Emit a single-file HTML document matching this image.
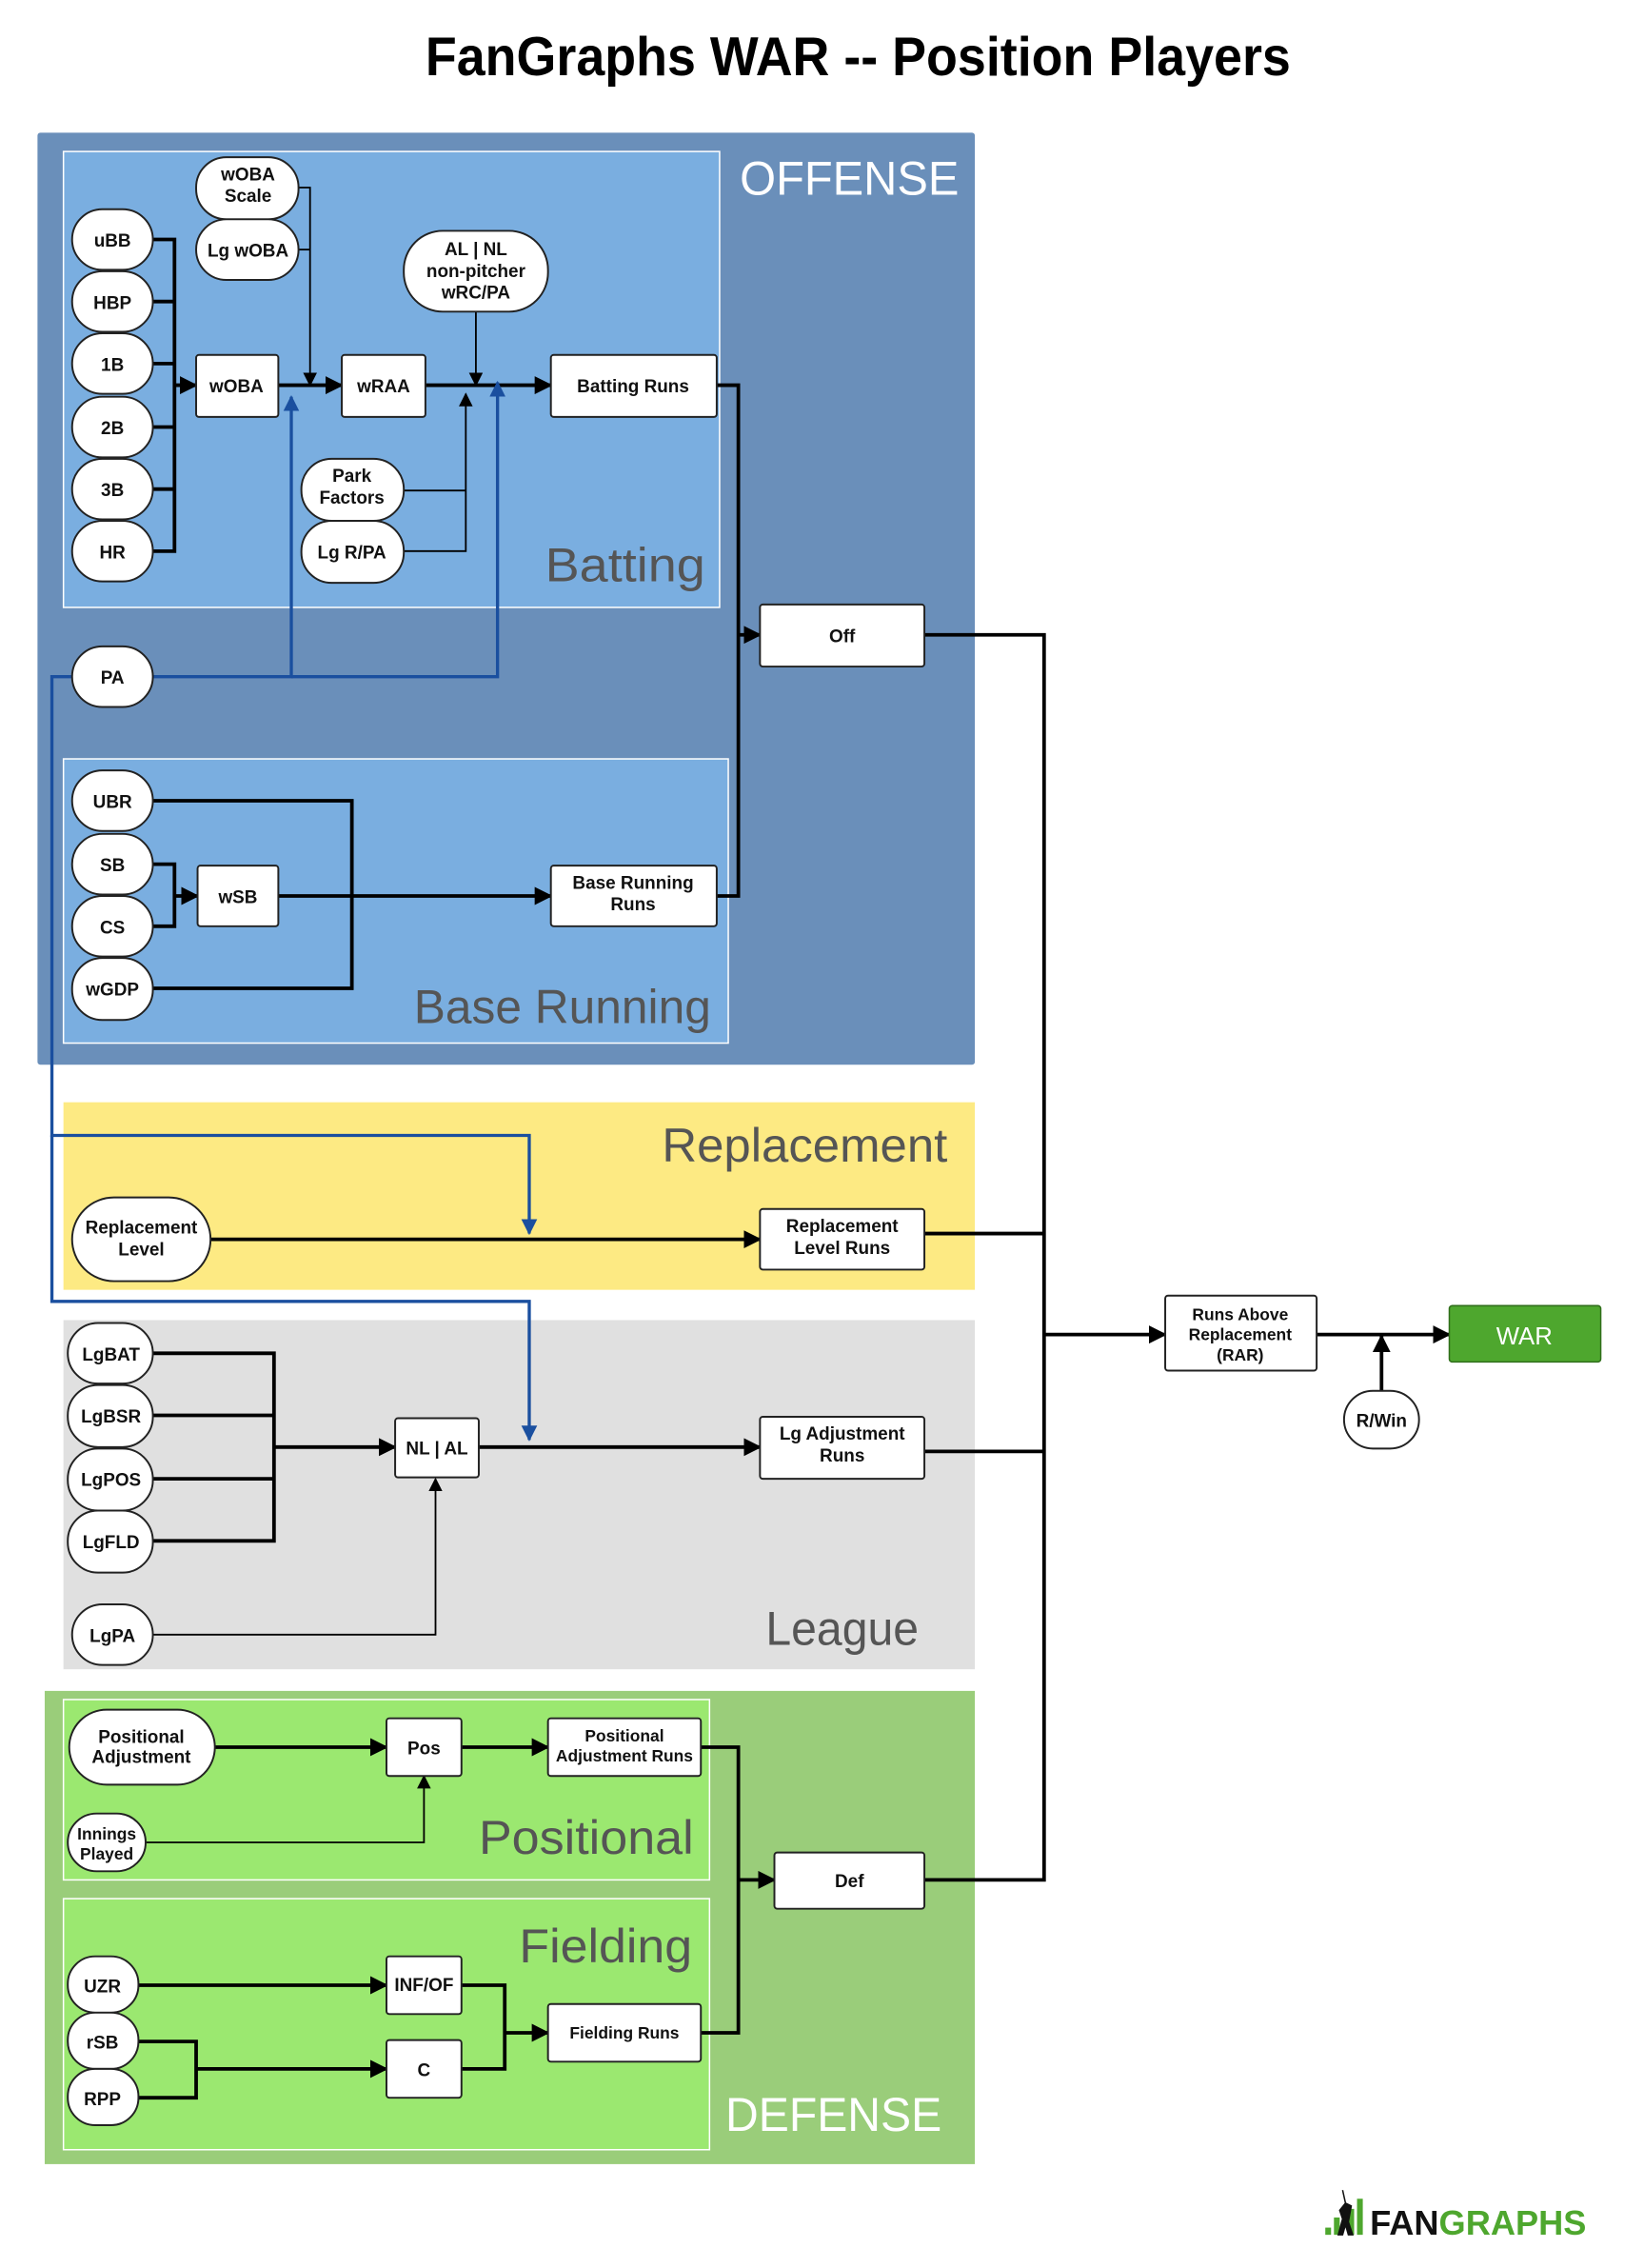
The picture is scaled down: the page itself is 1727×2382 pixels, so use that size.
<!DOCTYPE html>
<html><head><meta charset="utf-8">
<style>
html,body{margin:0;padding:0;background:#fff;}
svg{display:block;}
text{font-family:"Liberation Sans",sans-serif;}
.n{fill:#fff;stroke:#222;stroke-width:1.3;}
.t{font-size:12.5px;font-weight:bold;fill:#111;text-anchor:middle;}
.l{fill:none;stroke:#000;stroke-width:2.5;}
.th{fill:none;stroke:#000;stroke-width:1.2;}
.b{fill:none;stroke:#1a4f9f;stroke-width:2.2;}
.big{font-size:33px;fill:#555;}
.wh{font-size:33px;fill:#fff;}
</style></head><body>
<svg width="1727" height="2382" viewBox="0 0 1140 1572" preserveAspectRatio="none" xmlns="http://www.w3.org/2000/svg">
<defs>
<marker id="a" viewBox="0 0 10 10" refX="9" refY="5" markerWidth="5" markerHeight="5" orient="auto"><path d="M0,0L10,5L0,10z" fill="#000"/></marker>
<marker id="ab" viewBox="0 0 10 10" refX="9" refY="5" markerWidth="5" markerHeight="5" orient="auto"><path d="M0,0L10,5L0,10z" fill="#1a4f9f"/></marker>
<marker id="at" viewBox="0 0 10 10" refX="9" refY="5" markerWidth="8" markerHeight="8" orient="auto"><path d="M0,0L10,5L0,10z" fill="#000"/></marker>
</defs>
<text x="295" y="52" textLength="600" lengthAdjust="spacingAndGlyphs" style="font-size:38px;font-weight:bold;fill:#000">FanGraphs WAR -- Position Players</text>

<!-- regions -->
<rect x="26" y="92" width="650" height="646" rx="2" fill="#6a8fba"/>
<rect x="44" y="105" width="455" height="316" fill="#7aaee0" stroke="#fff" stroke-width="1"/>
<rect x="44" y="526" width="461" height="197" fill="#7aaee0" stroke="#fff" stroke-width="1"/>
<rect x="44" y="764" width="632" height="130" fill="#fdea83"/>
<rect x="44" y="915" width="632" height="242" fill="#e0e0e0"/>
<rect x="31" y="1172" width="645" height="328" fill="#9acd7a"/>
<rect x="44" y="1178" width="448" height="125" fill="#9be870" stroke="#fff" stroke-width="1"/>
<rect x="44" y="1316" width="448" height="174" fill="#9be870" stroke="#fff" stroke-width="1"/>

<text x="513" y="135" class="wh" textLength="152" lengthAdjust="spacingAndGlyphs">OFFENSE</text>
<text x="378" y="403" class="big" textLength="111" lengthAdjust="spacingAndGlyphs">Batting</text>
<text x="287" y="709" class="big" textLength="206" lengthAdjust="spacingAndGlyphs">Base Running</text>
<text x="459" y="805" class="big" textLength="198" lengthAdjust="spacingAndGlyphs">Replacement</text>
<text x="531" y="1140" class="big" textLength="106" lengthAdjust="spacingAndGlyphs">League</text>
<text x="332" y="1285" class="big" textLength="149" lengthAdjust="spacingAndGlyphs">Positional</text>
<text x="360" y="1360" class="big" textLength="120" lengthAdjust="spacingAndGlyphs">Fielding</text>
<text x="503" y="1477" class="wh" textLength="150" lengthAdjust="spacingAndGlyphs">DEFENSE</text>

<!-- connectors batting -->
<path class="l" d="M106,166H121V382H106M106,209H121M106,252H121M106,296H121M106,339H121"/>
<path class="l" d="M121,267H136" marker-end="url(#a)"/>
<path class="th" d="M207,130H215V267" marker-end="url(#at)"/>
<path class="th" d="M207,173H215"/>
<path class="l" d="M193,267H237" marker-end="url(#a)"/>
<path class="l" d="M295,267H382" marker-end="url(#a)"/>
<path class="th" d="M330,216V267" marker-end="url(#at)"/>
<path class="th" d="M280,340H323V382H280M323,340V273" marker-end="url(#at)"/>
<path class="b" d="M106,469H202V275" marker-end="url(#ab)"/>
<path class="b" d="M202,469H345V265" marker-end="url(#ab)"/>
<path class="b" d="M50,469H36V787H367V855" marker-end="url(#ab)"/>
<path class="b" d="M36,787V902H367V998" marker-end="url(#ab)"/>
<path class="l" d="M497,267H512V621H497"/>
<path class="l" d="M512,440H527" marker-end="url(#a)"/>
<!-- base running -->
<path class="l" d="M106,555H244V685H106"/>
<path class="l" d="M106,599H121V642H106"/>
<path class="l" d="M121,621H137" marker-end="url(#a)"/>
<path class="l" d="M193,621H382" marker-end="url(#a)"/>
<!-- right side -->
<path class="l" d="M641,440H724V1303H641M641,855H724M641,1006H724"/>
<path class="l" d="M724,925H808" marker-end="url(#a)"/>
<path class="l" d="M913,925H1005" marker-end="url(#a)"/>
<path class="l" d="M958,964V926" marker-end="url(#a)"/>
<!-- replacement -->
<path class="l" d="M146,859H527" marker-end="url(#a)"/>
<!-- league -->
<path class="l" d="M106,938H190V1068H106M106,981H190M106,1025H190"/>
<path class="l" d="M190,1003H274" marker-end="url(#a)"/>
<path class="l" d="M332,1003H527" marker-end="url(#a)"/>
<path class="th" d="M106,1133H302V1025" marker-end="url(#at)"/>
<!-- positional -->
<path class="l" d="M149,1211H268" marker-end="url(#a)"/>
<path class="l" d="M320,1211H380" marker-end="url(#a)"/>
<path class="th" d="M101,1277H294V1231" marker-end="url(#at)"/>
<path class="l" d="M486,1211H512V1409H486"/>
<path class="l" d="M512,1303H537" marker-end="url(#a)"/>
<!-- fielding -->
<path class="l" d="M96,1376H268" marker-end="url(#a)"/>
<path class="l" d="M96,1415H136V1454H96"/>
<path class="l" d="M136,1434H268" marker-end="url(#a)"/>
<path class="l" d="M320,1376H350V1434H320"/>
<path class="l" d="M350,1409H380" marker-end="url(#a)"/>

<!-- pill nodes -->
<g>
<rect class="n" x="50" y="145" width="56" height="42" rx="21"/><text class="t" x="78" y="171">uBB</text>
<rect class="n" x="50" y="188" width="56" height="42" rx="21"/><text class="t" x="78" y="214">HBP</text>
<rect class="n" x="50" y="231" width="56" height="42" rx="21"/><text class="t" x="78" y="257">1B</text>
<rect class="n" x="50" y="275" width="56" height="42" rx="21"/><text class="t" x="78" y="301">2B</text>
<rect class="n" x="50" y="318" width="56" height="42" rx="21"/><text class="t" x="78" y="344">3B</text>
<rect class="n" x="50" y="361" width="56" height="42" rx="21"/><text class="t" x="78" y="387">HR</text>
<rect class="n" x="136" y="109" width="71" height="43" rx="21"/><text class="t" x="172" y="125">wOBA</text><text class="t" x="172" y="140">Scale</text>
<rect class="n" x="136" y="152" width="71" height="42" rx="21"/><text class="t" x="172" y="178">Lg wOBA</text>
<rect class="n" x="280" y="160" width="100" height="56" rx="27"/><text class="t" x="330" y="177">AL | NL</text><text class="t" x="330" y="192">non-pitcher</text><text class="t" x="330" y="207">wRC/PA</text>
<rect class="n" x="209" y="318" width="71" height="43" rx="21"/><text class="t" x="244" y="334">Park</text><text class="t" x="244" y="349">Factors</text>
<rect class="n" x="209" y="361" width="71" height="43" rx="21"/><text class="t" x="244" y="387">Lg R/PA</text>
<rect class="n" x="50" y="448" width="56" height="42" rx="21"/><text class="t" x="78" y="474">PA</text>
<rect class="n" x="50" y="534" width="56" height="42" rx="21"/><text class="t" x="78" y="560">UBR</text>
<rect class="n" x="50" y="578" width="56" height="42" rx="21"/><text class="t" x="78" y="604">SB</text>
<rect class="n" x="50" y="621" width="56" height="42" rx="21"/><text class="t" x="78" y="647">CS</text>
<rect class="n" x="50" y="664" width="56" height="43" rx="21"/><text class="t" x="78" y="690">wGDP</text>
<rect class="n" x="50" y="830" width="96" height="58" rx="29"/><text class="t" x="98" y="855">Replacement</text><text class="t" x="98" y="870">Level</text>
<rect class="n" x="47" y="917" width="59" height="42" rx="21"/><text class="t" x="77" y="943">LgBAT</text>
<rect class="n" x="47" y="960" width="59" height="43" rx="21"/><text class="t" x="77" y="986">LgBSR</text>
<rect class="n" x="47" y="1004" width="59" height="43" rx="21"/><text class="t" x="77" y="1030">LgPOS</text>
<rect class="n" x="47" y="1047" width="59" height="43" rx="21"/><text class="t" x="77" y="1073">LgFLD</text>
<rect class="n" x="50" y="1112" width="56" height="42" rx="21"/><text class="t" x="78" y="1138">LgPA</text>
<rect class="n" x="932" y="964" width="52" height="40" rx="20"/><text class="t" x="958" y="989">R/Win</text>
<rect class="n" x="48" y="1185" width="101" height="52" rx="26"/><text class="t" x="98" y="1208">Positional</text><text class="t" x="98" y="1222">Adjustment</text>
<rect class="n" x="47" y="1257" width="54" height="40" rx="20"/><text class="t" x="74" y="1275" style="font-size:11.5px">Innings</text><text class="t" x="74" y="1289" style="font-size:11.5px">Played</text>
<rect class="n" x="47" y="1356" width="49" height="39" rx="19"/><text class="t" x="71" y="1381">UZR</text>
<rect class="n" x="47" y="1395" width="49" height="39" rx="19"/><text class="t" x="71" y="1420">rSB</text>
<rect class="n" x="47" y="1434" width="49" height="39" rx="19"/><text class="t" x="71" y="1459">RPP</text>
</g>
<!-- rect nodes -->
<g>
<rect class="n" x="136" y="246" width="57" height="43" rx="2"/><text class="t" x="164" y="272">wOBA</text>
<rect class="n" x="237" y="246" width="58" height="43" rx="2"/><text class="t" x="266" y="272">wRAA</text>
<rect class="n" x="382" y="246" width="115" height="43" rx="2"/><text class="t" x="439" y="272">Batting Runs</text>
<rect class="n" x="527" y="419" width="114" height="43" rx="2"/><text class="t" x="584" y="445">Off</text>
<rect class="n" x="137" y="600" width="56" height="42" rx="2"/><text class="t" x="165" y="626">wSB</text>
<rect class="n" x="382" y="600" width="115" height="42" rx="2"/><text class="t" x="439" y="616">Base Running</text><text class="t" x="439" y="631">Runs</text>
<rect class="n" x="527" y="838" width="114" height="42" rx="2"/><text class="t" x="584" y="854">Replacement</text><text class="t" x="584" y="869">Level Runs</text>
<rect class="n" x="274" y="983" width="58" height="41" rx="2"/><text class="t" x="303" y="1008">NL | AL</text>
<rect class="n" x="527" y="982" width="114" height="43" rx="2"/><text class="t" x="584" y="998">Lg Adjustment</text><text class="t" x="584" y="1013">Runs</text>
<rect class="n" x="808" y="898" width="105" height="52" rx="2"/><text class="t" x="860" y="915" style="font-size:11.5px">Runs Above</text><text class="t" x="860" y="929" style="font-size:11.5px">Replacement</text><text class="t" x="860" y="943" style="font-size:11.5px">(RAR)</text>
<rect x="1005" y="905" width="105" height="39" rx="2" fill="#4ea72e" stroke="#2f6e1a" stroke-width="1"/><text x="1057" y="932" style="font-size:17px;fill:#fff;text-anchor:middle">WAR</text>
<rect class="n" x="268" y="1191" width="52" height="40" rx="2"/><text class="t" x="294" y="1216">Pos</text>
<rect class="n" x="380" y="1191" width="106" height="40" rx="2"/><text class="t" x="433" y="1207" style="font-size:11.5px">Positional</text><text class="t" x="433" y="1221" style="font-size:11.5px">Adjustment Runs</text>
<rect class="n" x="537" y="1284" width="104" height="39" rx="2"/><text class="t" x="589" y="1308">Def</text>
<rect class="n" x="268" y="1356" width="52" height="40" rx="2"/><text class="t" x="294" y="1380">INF/OF</text>
<rect class="n" x="268" y="1414" width="52" height="40" rx="2"/><text class="t" x="294" y="1439">C</text>
<rect class="n" x="380" y="1389" width="106" height="40" rx="2"/><text class="t" x="433" y="1413" style="font-size:11.5px">Fielding Runs</text>
</g>
<!-- logo -->
<g>
<rect x="919" y="1544" width="4" height="5" fill="#4ea72e"/>
<rect x="925" y="1537" width="4" height="12" fill="#4ea72e"/>
<rect x="935" y="1531" width="4" height="18" fill="#4ea72e"/>
<rect x="941" y="1524" width="4" height="25" fill="#4ea72e"/>
<path d="M928,1549L931,1538L929,1532L933,1527L937,1529L935,1540L938,1549L935,1549L933,1542L931,1549z M933,1527L931,1518" fill="#111" stroke="#111" stroke-width="1"/>
<text x="950" y="1549" textLength="150" lengthAdjust="spacingAndGlyphs" style="font-size:24px;font-weight:bold;fill:#111">FAN<tspan fill="#4ea72e">GRAPHS</tspan></text>
</g>
</svg>
</body></html>
